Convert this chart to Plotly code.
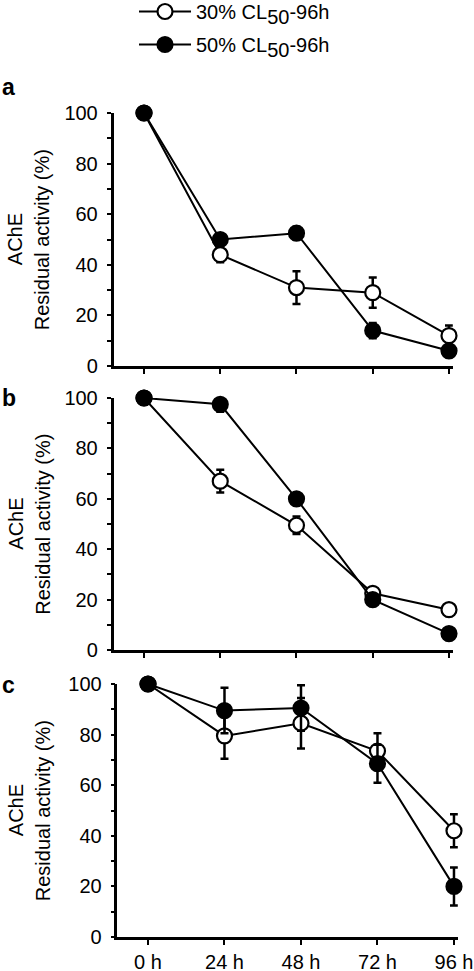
import plotly.graph_objects as go

W, H = 474, 971

times = ["0 h", "24 h", "48 h", "72 h", "96 h"]
series_names = [
    "30% CL<sub><span style='font-size:20px'>50</span></sub>-96h",
    "50% CL<sub><span style='font-size:20px'>50</span></sub>-96h",
]
panel_letters = ["a", "b", "c"]

a_30 = [100, 44, 31, 29, 12]
a_30_err = [0, 3, 6.5, 6, 4]
a_50 = [100, 50, 52.5, 14, 6]
a_50_err = [0, 2, 2.5, 3, 1]

b_30 = [100, 67, 49.5, 22.5, 16]
b_30_err = [0, 4.5, 3.5, 2, 1]
b_50 = [100, 97.5, 60, 20, 6.5]
b_50_err = [0, 3, 1.5, 1, 1]

c_30 = [100, 79.5, 84.5, 73.5, 42]
c_30_err = [0, 9, 10, 7, 6.5]
c_50 = [100, 89.5, 90.5, 68.5, 20]
c_50_err = [0, 9, 9, 7.5, 7.5]

y_ticks = [0, 10, 20, 30, 40, 50, 60, 70, 80, 90, 100]
y_ticktext = ["0", " ", "20", " ", "40", " ", "60", " ", "80", " ", "100"]

FONT = "Liberation Sans, Arial, sans-serif"
FS = 20

panels = [
    (a_30, a_30_err, a_50, a_50_err),
    (b_30, b_30_err, b_50, b_50_err),
    (c_30, c_30_err, c_50, c_50_err),
]

# pixel geometry: (x_left, x_right, y_top, y_bottom)
geom = [
    (113.5, 452.8, 113, 366),
    (113.5, 452.8, 398, 650),
    (117.4, 457.8, 684, 937),
]

fig = go.Figure()

for i, (s30, e30, s50, e50) in enumerate(panels):
    xa = "x" if i == 0 else f"x{i+1}"
    ya = "y" if i == 0 else f"y{i+1}"
    for k, (name, vals, errs, fill) in enumerate([
        (series_names[0], s30, e30, "white"),
        (series_names[1], s50, e50, "black"),
    ]):
        fig.add_trace(go.Scatter(
            x=times, y=vals, name=name, xaxis=xa, yaxis=ya,
            mode="lines+markers",
            line=dict(color="black", width=2),
            marker=dict(size=15, color=fill, symbol="circle",
                        line=dict(color="black", width=2.2)),
            error_y=dict(type="data", array=errs, visible=True,
                         color="black", thickness=2.5, width=4),
            cliponaxis=False,
            legendgroup=f"g{k}",
            showlegend=(i == 0),
        ))

layout = dict(
    width=W, height=H,
    margin=dict(l=0, r=0, t=0, b=0, autoexpand=False),
    paper_bgcolor="white", plot_bgcolor="white",
    font=dict(family=FONT, size=FS, color="black"),
    showlegend=True,
    legend=dict(x=134 / W, y=1.0 + 8 / H, xanchor="left", yanchor="top",
                font=dict(family=FONT, size=FS, color="black"),
                bgcolor="rgba(0,0,0,0)", tracegroupgap=4, itemwidth=52),
)

annotations = []
for i, (xl, xr, yt, yb) in enumerate(geom):
    sfx = "" if i == 0 else str(i + 1)
    layout["xaxis" + sfx] = dict(
        domain=[xl / W, xr / W], anchor="y" + sfx,
        type="category", range=[-0.4, 4.05],
        showline=True, linecolor="black", linewidth=2.5,
        ticks="outside", ticklen=5, tickwidth=2, tickcolor="black",
        showgrid=False, zeroline=False, automargin=False,
        showticklabels=(i == 2), ticklabelstandoff=0,
        tickfont=dict(family=FONT, size=FS, color="black"),
    )
    layout["yaxis" + sfx] = dict(
        domain=[1 - yb / H, 1 - yt / H], anchor="x" + sfx,
        range=[0, 100],
        tickmode="array", tickvals=y_ticks, ticktext=y_ticktext,
        showline=True, linecolor="black", linewidth=2.5,
        ticks="outside", ticklen=4, tickwidth=2, tickcolor="black",
        showgrid=False, zeroline=False, automargin=False,
        ticklabelstandoff=5,
        tickfont=dict(family=FONT, size=FS, color="black"),
    )
    yc = 1 - (yt + yb) / 2 / H
    annotations.append(dict(text="AChE", xref="paper", yref="paper",
                            x=15.7 / W, y=yc, xanchor="center", yanchor="middle",
                            textangle=-90, showarrow=False,
                            font=dict(family=FONT, size=FS, color="black")))
    annotations.append(dict(text="Residual activity (%)", xref="paper", yref="paper",
                            x=42.7 / W, y=yc, xanchor="center", yanchor="middle",
                            textangle=-90, showarrow=False,
                            font=dict(family=FONT, size=FS, color="black")))
    letter_y = [87, 398, 685][i]
    annotations.append(dict(text="<b>" + panel_letters[i] + "</b>", xref="paper", yref="paper",
                            x=0, y=1 - letter_y / H, xanchor="left", yanchor="middle",
                            showarrow=False,
                            font=dict(family=FONT, size=23, color="black")))

layout["annotations"] = annotations
fig.update_layout(**layout)

fig.write_html("out.html")
